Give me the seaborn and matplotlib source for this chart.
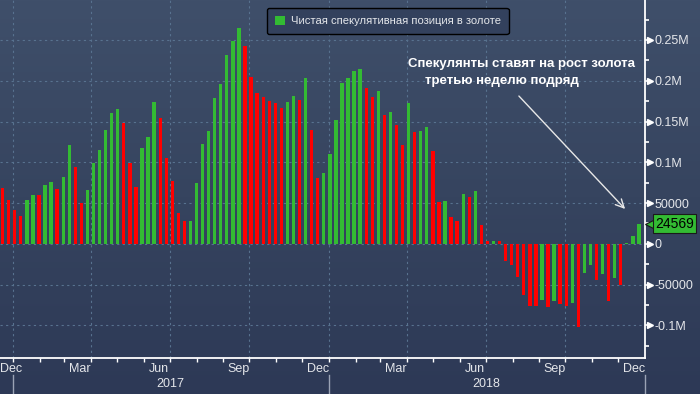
import matplotlib
matplotlib.use("Agg")
import matplotlib.pyplot as plt
import matplotlib.dates as mdates
import matplotlib.transforms as mtransforms
from matplotlib.colors import LinearSegmentedColormap
from matplotlib.patches import Patch
from matplotlib.ticker import MultipleLocator, NullFormatter
import numpy as np
import pandas as pd
import seaborn as sns

# net speculative position in gold (contracts), weekly
positions = [69000, 53900, 41700, 34300, 53900, 60000, 59600, 72300, 76000, 67000,
             82100, 121300, 94400, 50200, 66200, 99300, 115200, 139700, 160500, 165400,
             148300, 99300, 69900, 117600, 131100, 174000, 154400, 105800, 76800, 38000,
             27400, 28200, 74800, 122600, 138500, 178900, 196100, 231600, 248800, 264700,
             242700, 204300, 184600, 179700, 175200, 172400, 166700, 174000, 181400, 176500,
             203400, 139700, 80900, 87000, 110300, 152000, 197300, 203400, 212000, 214500,
             191200, 179700, 187500, 158100, 161800, 145800, 121300, 172800, 137300, 138500,
             143400, 113600, 51800, 52300, 32300, 27400, 61700, 57600, 65000, 23300,
             3600, 3900, 3300, -21400, -26200, -40700, -62500, -75800, -76600, -68500,
             -77000, -69700, -73300, -75800, -72100, -102000, -35900, -26200, -44300, -37100,
             -69700, -41900, -50400, 1500, 9700, 24569]
first_week = "2016-12-20"
last_value = "24569"

legend_label = "Чистая спекулятивная позиция в золоте"
note_lines = ["Спекулянты ставят на рост золота", "третью неделю подряд"]

ytick_values = [-100000, -50000, 0, 50000, 100000, 150000, 200000, 250000]
ytick_labels = ["-0.1M", "-50000", "0", "50000", "0.1M", "0.15M", "0.2M", "0.25M"]
month_labels = ["Dec", "Mar", "Jun", "Sep", "Dec", "Mar", "Jun", "Sep", "Dec"]
month_label_dates = ["2016-12-19", "2017-03-19", "2017-06-19", "2017-09-19", "2017-12-19",
                     "2018-03-19", "2018-06-19", "2018-09-19", "2018-12-19"]
year_labels = ["2017", "2018"]
year_label_dates = ["2017-07-02", "2018-07-02"]
year_bounds = ["2017-01-01", "2018-01-01", "2019-01-01"]

GREEN = "#33bb33"
RED = "#ff0000"
TXT = "#e4e6ea"
GRID = "#58728f"

dates = pd.date_range(first_week, periods=len(positions), freq="7D")
df = pd.DataFrame({"date": mdates.date2num(dates), "net": positions})
df["move"] = np.where(df["net"] > df["net"].shift(1), "up", "down")

fig = plt.figure(figsize=(7, 3.94), dpi=100)

# background gradient
bg = fig.add_axes([0, 0, 1, 1], zorder=0)
grad = np.linspace(0, 1, 256).reshape(-1, 1)
cmap = LinearSegmentedColormap.from_list("bbg", ["#3f4f6a", "#36445f", "#2d3956"])
bg.imshow(grad, aspect="auto", cmap=cmap, extent=[0, 1, 0, 1])
bg.axis("off")

ax = fig.add_axes([0, 1 - 358 / 394, 645 / 700, 358 / 394], zorder=1)
ax.set_facecolor("none")
ax.set_axisbelow(True)

sns.barplot(data=df, x="date", y="net", hue="move",
            palette={"up": GREEN, "down": RED}, native_scale=True,
            width=0.55, linewidth=0, saturation=1, legend=False, ax=ax)

ax.set_xlabel("")
ax.set_ylabel("")

# spines
for s in ["left", "top"]:
    ax.spines[s].set_visible(False)
for s in ["right", "bottom"]:
    ax.spines[s].set_color("white")
    ax.spines[s].set_linewidth(1.3)

# y axis on the right
ax.yaxis.tick_right()
ax.set_yticks(ytick_values, ytick_labels)
ax.yaxis.set_minor_locator(MultipleLocator(50000, offset=25000))
ax.tick_params(axis="y", which="major", colors="white", length=4, width=1.2,
               pad=3, labelsize=9, labelcolor=TXT)
ax.tick_params(axis="y", which="minor", colors="white", length=3, width=1.2)
for lab in ax.get_yticklabels():
    lab.set_family("Liberation Sans")
ax.grid(axis="y", color=GRID, linestyle=(0, (2, 3)), linewidth=0.8)
tri = mtransforms.offset_copy(ax.get_yaxis_transform(), fig=fig, x=5, units="dots")
ax.plot([1] * len(ytick_values), ytick_values, ls="none", marker=">", ms=4,
        color="white", transform=tri, clip_on=False)

# x axis: quarter grid, month ticks
quarters = mdates.date2num(pd.date_range("2017-01-01", "2018-12-31", freq="QS"))
months = mdates.date2num(pd.date_range("2017-01-01", "2018-12-31", freq="MS"))
ax.set_xticks(quarters)
ax.set_xticks(months, minor=True)
ax.xaxis.set_major_formatter(NullFormatter())
ax.xaxis.set_minor_formatter(NullFormatter())
ax.tick_params(axis="x", which="both", colors="white", length=3, width=1)
ax.grid(axis="x", which="major", color=GRID, linestyle=(0, (2, 3)), linewidth=0.8)

# limits after ticks so they are not widened
ax.set_xlim(mdates.date2num(pd.Timestamp("2016-12-17")),
            mdates.date2num(pd.Timestamp("2019-01-01")))
ax.set_ylim(-140000, 299000)

xt = ax.get_xaxis_transform()
for i, (lab, d) in enumerate(zip(month_labels, month_label_dates)):
    if i == 0:
        # first label sits at the left edge; keep it fully inside
        ax.text(0.0, -0.03, lab, transform=ax.transAxes, ha="left", va="center",
                color=TXT, fontsize=9, family="Liberation Sans", clip_on=False)
        continue
    ax.text(mdates.date2num(pd.Timestamp(d)), -0.03, lab, transform=xt, ha="center",
            va="center", color=TXT, fontsize=9, family="Liberation Sans", clip_on=False)
for lab, d in zip(year_labels, year_label_dates):
    ax.text(mdates.date2num(pd.Timestamp(d)), -0.072, lab, transform=xt, ha="center",
            va="center", color=TXT, fontsize=9, family="Liberation Sans", clip_on=False)
for d in year_bounds:
    x = mdates.date2num(pd.Timestamp(d))
    ax.plot([x, x], [-0.047, -0.1], transform=xt, color="#9aa3b5", lw=1, clip_on=False)

# last value tag
tag = mtransforms.offset_copy(ax.get_yaxis_transform(), fig=fig, x=10, units="dots")
ax.plot([1], [positions[-1]], ls="none", marker="<", ms=9, color=GREEN,
        markeredgecolor="#1a1a1a", markeredgewidth=0.8,
        transform=mtransforms.offset_copy(ax.get_yaxis_transform(), fig=fig, x=6, units="dots"),
        clip_on=False, zorder=5)
ax.text(1, positions[-1], last_value, transform=tag, ha="left", va="center",
        fontsize=10, family="Liberation Sans", color="black", zorder=6,
        bbox=dict(boxstyle="square,pad=0.18", fc=GREEN, ec="#1a1a1a", lw=0.8))

# legend
leg = ax.legend(handles=[Patch(facecolor=GREEN, edgecolor="none")], labels=[legend_label],
                loc="upper left", bbox_to_anchor=(267 / 645, 1 - 8 / 358), frameon=True,
                fancybox=True, framealpha=1, facecolor="#33415d", edgecolor="black",
                prop={"family": "Liberation Sans", "size": 8.1},
                handlelength=0.9, handleheight=0.9, handletextpad=0.5,
                borderpad=0.7, borderaxespad=0)
for t in leg.get_texts():
    t.set_color(TXT)

# annotation
ax.text(522 / 645, 1 - 64.5 / 358, note_lines[0], transform=ax.transAxes, ha="center",
        va="center", color="white", fontsize=9.5, fontweight="bold", family="Liberation Sans")
ax.text(501.5 / 645, 1 - 81 / 358, note_lines[1], transform=ax.transAxes, ha="center",
        va="center", color="white", fontsize=9.5, fontweight="bold", family="Liberation Sans")
ax.annotate("", xy=(627 / 645, 1 - 211 / 358), xytext=(517 / 645, 1 - 94 / 358),
            xycoords="axes fraction", textcoords="axes fraction",
            arrowprops=dict(arrowstyle="->,head_length=0.6,head_width=0.3",
                            color="#e8e8e8", lw=1))

fig.savefig("out.png", dpi=100)
